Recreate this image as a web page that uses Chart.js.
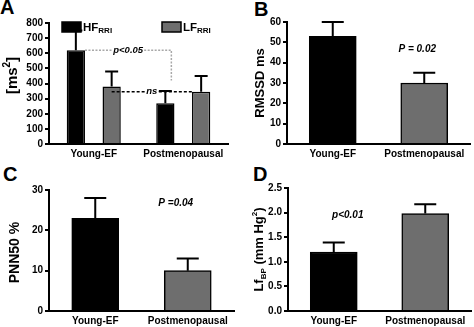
<!DOCTYPE html>
<html>
<head>
<meta charset="utf-8">
<script src="https://cdn.jsdelivr.net/npm/chart.js@4.4.1/dist/chart.umd.min.js"></script>
<style>
  html, body { margin: 0; padding: 0; background: #fff; }
  body { width: 474px; height: 327px; position: relative; overflow: hidden; }
  canvas { position: absolute; }
  .letter { position: absolute; font: bold 20px "Liberation Sans", Arial, sans-serif; line-height: 1; color: #000; }
</style>
</head>
<body>
<div class="letter" style="left:0px;top:-3px">A</div>
<div class="letter" style="left:254px;top:-1px">B</div>
<div class="letter" style="left:3px;top:164px">C</div>
<div class="letter" style="left:253px;top:164px">D</div>
<canvas id="panelA" width="237" height="162" style="left:0;top:0"></canvas>
<canvas id="panelB" width="237" height="162" style="left:237px;top:0"></canvas>
<canvas id="panelC" width="237" height="165" style="left:0;top:162px"></canvas>
<canvas id="panelD" width="237" height="165" style="left:237px;top:162px"></canvas>
<script>
// Groups compared in every panel
const groups = ['Young-EF', 'Postmenopausal'];

// A: spectral power of RR intervals, mean and SEM [ms²]
const hfRri = [620, 270];
const hfRriSem = [130, 80];
const lfRri = [380, 345];
const lfRriSem = [100, 105];
const ticksA = [0, 100, 200, 300, 400, 500, 600, 700, 800];

// B: RMSSD [ms]
const rmssd = [53, 30];
const rmssdSem = [7, 5];
const ticksB = [0, 10, 20, 30, 40, 50, 60];

// C: pNN50 [%]
const pnn50 = [23, 10];
const pnn50Sem = [5, 3];
const ticksC = [0, 10, 20, 30];

// D: low-frequency power of blood pressure [mm Hg²]
const lfBp = [1.2, 1.98];
const lfBpSem = [0.19, 0.19];
const ticksD = [0, 0.5, 1.0, 1.5, 2.0, 2.5];

const BLACK = '#000';
const GREY = '#6e6e6e';
const FAMILY = '"Liberation Sans", Arial, Helvetica, sans-serif';
const font = (size, weight = 'bold', style = 'normal') => `${style} ${weight} ${size}px ${FAMILY}`;

function yAxis(ticks, decimals, width) {
  return {
    type: 'linear',
    min: ticks[0],
    max: ticks[ticks.length - 1],
    afterBuildTicks: s => { s.ticks = ticks.map(v => ({ value: v })); },
    afterFit: s => { s.width = width; },
    ticks: {
      color: BLACK,
      padding: 2,
      font: { family: FAMILY, size: 10, weight: 'bold' },
      callback: v => Number(v).toFixed(decimals)
    },
    grid: { display: true, drawOnChartArea: false, drawTicks: true, tickLength: 4, color: BLACK, lineWidth: 2 },
    border: { display: true, color: BLACK, width: 2 }
  };
}

function xAxis(height) {
  return {
    type: 'category',
    offset: true,
    afterFit: s => { s.height = height; },
    ticks: {
      color: BLACK,
      padding: 4,
      maxRotation: 0,
      autoSkip: false,
      font: { family: FAMILY, size: 10, weight: 'bold' }
    },
    grid: { display: false, drawTicks: false },
    border: { display: true, color: BLACK, width: 2 }
  };
}

// Upper SEM whisker with a cap on every bar
const errorBars = {
  id: 'errorBars',
  afterDatasetsDraw(chart, args, opts) {
    const { ctx } = chart;
    const y = chart.scales.y;
    chart.data.datasets.forEach((ds, i) => {
      chart.getDatasetMeta(i).data.forEach((bar, j) => {
        const top = y.getPixelForValue(ds.data[j] + ds.sem[j]);
        ctx.save();
        ctx.strokeStyle = BLACK;
        ctx.lineWidth = 2;
        ctx.beginPath();
        ctx.moveTo(bar.x, bar.y);
        ctx.lineTo(bar.x, top);
        ctx.moveTo(bar.x - opts.cap, top);
        ctx.lineTo(bar.x + opts.cap, top);
        ctx.stroke();
        ctx.restore();
      });
    });
  }
};

// Text made of runs with their own size and baseline shift (sub/superscripts)
function drawRuns(ctx, runs, cx, cy, rotate) {
  ctx.save();
  ctx.translate(cx, cy);
  if (rotate) ctx.rotate(-Math.PI / 2);
  ctx.fillStyle = BLACK;
  ctx.textBaseline = 'alphabetic';
  ctx.textAlign = 'left';
  let total = 0;
  runs.forEach(r => {
    ctx.font = font(r.size, r.weight || 'bold', r.style || 'normal');
    r.w = ctx.measureText(r.t).width;
    total += r.w;
  });
  let x = -total / 2;
  const base = runs[0].size * 0.36;
  runs.forEach(r => {
    ctx.font = font(r.size, r.weight || 'bold', r.style || 'normal');
    ctx.fillText(r.t, x, base + (r.dy || 0));
    x += r.w;
  });
  ctx.restore();
}

// Vertical axis title, centred on the plot area with an optional shift
const axisTitle = {
  id: 'axisTitle',
  afterDraw(chart, args, opts) {
    const a = chart.chartArea;
    drawRuns(chart.ctx, opts.runs, opts.x, (a.top + a.bottom) / 2 + (opts.shift || 0), true);
  }
};

// Significance label placed at a bar's category and a value on the y scale
const noteText = {
  id: 'noteText',
  afterDatasetsDraw(chart, args, opts) {
    if (!opts.text) return;
    const { ctx } = chart;
    const bar = chart.getDatasetMeta(0).data[opts.index];
    const x = bar.x + opts.dx;
    const y = chart.scales.y.getPixelForValue(opts.value);
    ctx.save();
    ctx.font = font(opts.size, 'bold', 'italic');
    ctx.fillStyle = BLACK;
    ctx.textAlign = 'center';
    ctx.textBaseline = 'middle';
    ctx.fillText(opts.text, x, y);
    ctx.restore();
  }
};

function barChart(id, datasets, ticks, decimals, geom, notes, title, extra) {
  return new Chart(document.getElementById(id), {
    type: 'bar',
    data: { labels: groups, datasets },
    options: {
      responsive: false,
      animation: false,
      events: [],
      layout: { padding: { top: geom.top, right: geom.right, left: 0, bottom: 0 } },
      scales: { x: xAxis(geom.xh), y: yAxis(ticks, decimals, geom.yw) },
      plugins: {
        legend: { display: false },
        tooltip: { enabled: false },
        errorBars: { cap: geom.cap },
        noteText: notes,
        axisTitle: title
      }
    },
    plugins: [errorBars, noteText, axisTitle].concat(extra || [])
  });
}

const barBase = { borderColor: BLACK, borderWidth: 1.5, borderSkipped: 'bottom' };

// A: HF/LF brackets and legend
const panelAExtras = {
  id: 'panelAExtras',
  afterDatasetsDraw(chart) {
    const { ctx } = chart;
    const y = chart.scales.y;
    const hf = chart.getDatasetMeta(0).data;
    const lf = chart.getDatasetMeta(1).data;

    // dotted grey bracket: young HF vs postmenopausal HF
    const x0 = hf[0].x + hf[0].width / 2;
    const x1 = hf[1].x + 6;
    const yTop = y.getPixelForValue(hfRri[0]);
    const yEnd = y.getPixelForValue(420);
    const xm = (x0 + x1) / 2;
    ctx.save();
    ctx.strokeStyle = '#a8a8a8';
    ctx.lineWidth = 1.5;
    ctx.setLineDash([2, 1.5]);
    ctx.beginPath();
    ctx.moveTo(x0, yTop); ctx.lineTo(xm - 16, yTop);
    ctx.moveTo(xm + 16, yTop); ctx.lineTo(x1, yTop); ctx.lineTo(x1, yEnd);
    ctx.stroke();
    ctx.font = font(9.5, 'bold', 'italic');
    ctx.fillStyle = BLACK;
    ctx.textAlign = 'center';
    ctx.textBaseline = 'middle';
    ctx.fillText('p<0.05', xm, yTop);

    // dashed black line: young LF vs postmenopausal LF
    const l0 = lf[0].x;
    const l1 = lf[1].x - lf[1].width / 2;
    const yl = y.getPixelForValue(lfRri[1]);
    const lm = (l0 + l1) / 2;
    ctx.strokeStyle = BLACK;
    ctx.setLineDash([3, 2]);
    ctx.beginPath();
    ctx.moveTo(l0, yl); ctx.lineTo(lm - 7, yl);
    ctx.moveTo(lm + 7, yl); ctx.lineTo(l1, yl);
    ctx.stroke();
    ctx.setLineDash([]);
    ctx.fillText('ns', lm, yl);
    ctx.restore();
  },
  afterDraw(chart) {
    const { ctx } = chart;
    const items = [
      { x: 62, fill: BLACK, main: 'HF', sub: 'RRI' },
      { x: 162, fill: GREY, main: 'LF', sub: 'RRI' }
    ];
    ctx.save();
    items.forEach(it => {
      ctx.fillStyle = it.fill;
      ctx.fillRect(it.x, 22, 19, 10);
      ctx.strokeStyle = BLACK;
      ctx.lineWidth = 1.5;
      ctx.strokeRect(it.x, 22, 19, 10);
      ctx.fillStyle = BLACK;
      ctx.textBaseline = 'alphabetic';
      ctx.textAlign = 'left';
      ctx.font = font(11.5);
      ctx.fillText(it.main, it.x + 21, 31);
      const w = ctx.measureText(it.main).width;
      ctx.font = font(8);
      ctx.fillText(it.sub, it.x + 21 + w, 33);
    });
    ctx.restore();
  }
};

barChart('panelA', [
  Object.assign({ label: 'HF', data: hfRri, sem: hfRriSem, backgroundColor: BLACK,
    categoryPercentage: 0.80, barPercentage: 0.51 }, barBase),
  Object.assign({ label: 'LF', data: lfRri, sem: lfRriSem, backgroundColor: GREY,
    categoryPercentage: 0.80, barPercentage: 0.51 }, barBase)
], ticksA, 0,
  { top: 23, right: 9, xh: 18, yw: 49, cap: 6.5 },
  {},
  { x: 12, shift: -8, runs: [{ t: '[ms', size: 15 }, { t: '2', size: 10, dy: -7 }, { t: ']', size: 15 }] },
  [panelAExtras]);

barChart('panelB', [
  Object.assign({ label: 'RMSSD', data: rmssd, sem: rmssdSem, backgroundColor: [BLACK, GREY],
    barThickness: 47 }, barBase)
], ticksB, 0,
  { top: 22, right: 4, xh: 18, yw: 50, cap: 11 },
  { text: 'P = 0.02', index: 1, dx: -7, value: 46.8, size: 10 },
  { x: 22, shift: 0, runs: [{ t: 'RMSSD ms', size: 13 }] });

barChart('panelC', [
  Object.assign({ label: 'PNN50', data: pnn50, sem: pnn50Sem, backgroundColor: [BLACK, GREY],
    barThickness: 47 }, barBase)
], ticksC, 0,
  { top: 28, right: 3, xh: 16, yw: 49, cap: 11 },
  { text: 'P =0.04', index: 1, dx: -12, value: 26.8, size: 10 },
  { x: 14, shift: 2, runs: [{ t: 'PNN50 %', size: 14 }] });

barChart('panelD', [
  Object.assign({ label: 'LfBP', data: lfBp, sem: lfBpSem, backgroundColor: [BLACK, GREY],
    barThickness: 47 }, barBase)
], ticksD, 1,
  { top: 26, right: 3, xh: 16, yw: 51, cap: 11 },
  { text: 'p<0.01', index: 0, dx: 14, value: 1.95, size: 10 },
  { x: 21, shift: 0, runs: [
    { t: 'Lf', size: 13 }, { t: 'BP', size: 8, dy: 3 },
    { t: ' (mm Hg', size: 13 }, { t: '2', size: 8, dy: -6 }, { t: ')', size: 13 }
  ] });
</script>
</body>
</html>
